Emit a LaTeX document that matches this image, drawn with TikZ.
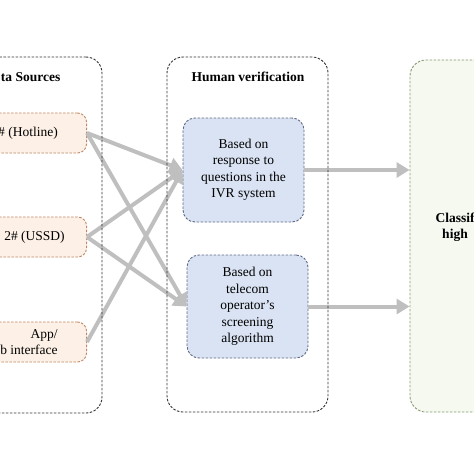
\documentclass[tikz,border=0pt]{standalone}
\usepackage{fontspec}
\setmainfont{Liberation Serif}
\usetikzlibrary{arrows.meta,positioning}
\definecolor{srcfill}{RGB}{253,241,231}
\definecolor{srcline}{RGB}{190,135,100}
\definecolor{verfill}{RGB}{218,227,243}
\definecolor{verline}{RGB}{95,105,130}
\definecolor{clsfill}{RGB}{245,249,240}
\definecolor{clsline}{RGB}{135,155,115}
\definecolor{flowgray}{RGB}{191,191,191}

\begin{document}
\begin{tikzpicture}[x=1pt,y=-1pt,
    font=\fontsize{13.5}{16.5}\selectfont,
    dashy/.style={dash pattern=on 2.5pt off 1.5pt, line width=0.9pt},
    frame/.style={dashy, draw=black!80, rounded corners=16pt, inner sep=0pt},
    srcbox/.style={dashy, draw=srcline, fill=srcfill, rounded corners=9pt,
        minimum height=40pt, anchor=east, inner sep=0pt},
    verbox/.style={dashy, draw=verline, fill=verfill, rounded corners=12pt,
        minimum width=121pt, minimum height=104pt, align=center, inner sep=0pt},
    title/.style={font=\fontsize{13.5}{16.5}\selectfont\bfseries, inner sep=0pt},
    flow/.style={draw=flowgray, line width=4pt, -{Triangle[length=13pt,width=15pt]}}]
    \useasboundingbox (0,0) rectangle (474,474);
    \clip (0,0) rectangle (474,474);

    % classification box (right)
    \node[dashy, draw=clsline, fill=clsfill, rounded corners=16pt,
        minimum width=110pt, minimum height=352pt] (cls) at (465,236) {};
    \node[title, align=center] (clstext) at (455,227) {Classif\\high};

    % data sources
    \node[srcbox, minimum width=117pt] (hotline) at (87,133) {\# (Hotline)};
    \node[srcbox, minimum width=104pt] (ussd) at (87,237) {2\# (USSD)};
    \node[srcbox, minimum width=115pt, align=right] (app) at (87,342) {App/\\b interface};
    \node[title, anchor=east] (srctitle) at (60.5,77) {ta Sources};

    % human verification
    \node[verbox] (ivr) at (243.5,170) {Based on\\response to\\questions in the\\IVR system};
    \node[verbox, minimum height=103pt] (algo) at (247.5,306.5) {Based on\\telecom\\operator's\\screening\\algorithm};
    \node[title] (vertitle) at (248,77) {Human verification};

    % flows
    \draw[flow] (hotline.east) -- (ivr.west);
    \draw[flow] (hotline.east) -- (algo.west);
    \draw[flow] (ussd.east) -- (ivr.west);
    \draw[flow] (ussd.east) -- (algo.west);
    \draw[flow] (app.east) -- (ivr.west);
    \draw[flow] (ivr.east) -- (ivr.east -| cls.west);
    \draw[flow] (algo.east) -- (algo.east -| cls.west);

    % outer frames
    \node[frame, minimum width=147pt, minimum height=356pt] (srcframe) at (28.5,235) {};
    \node[frame, minimum width=161pt, minimum height=355pt] (verframe) at (247.5,234.5) {};
\end{tikzpicture}
\end{document}
